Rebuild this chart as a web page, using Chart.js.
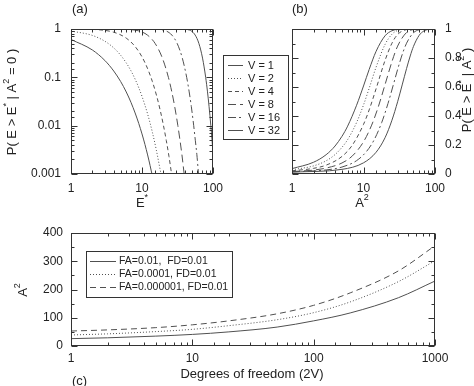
<!DOCTYPE html>
<html>
<head>
<meta charset="utf-8">
<script src="https://cdn.jsdelivr.net/npm/chart.js@4.4.1/dist/chart.umd.min.js"></script>
<style>
  html, body { margin: 0; padding: 0; background: #fff; }
  #wrap { position: relative; width: 474px; height: 386px; }
  canvas { position: absolute; left: 0; top: 0; }
</style>
</head>
<body>
<div id="wrap">
  <canvas id="chartA" width="474" height="386"></canvas>
  <canvas id="chartB" width="474" height="386"></canvas>
  <canvas id="chartC" width="474" height="386"></canvas>
</div>
<script>
// ---- data ----
const vLabels = ['V = 1', 'V = 2', 'V = 4', 'V = 8', 'V = 16', 'V = 32'];

// (a) P(E > E* | A^2 = 0) against E*
const eStarV1 = [1, 2, 3, 4, 5, 6, 7, 8, 9, 10, 11, 12, 13, 13.8];
const pNoiseV1 = [0.607, 0.368, 0.223, 0.135, 0.082, 0.0498, 0.0302, 0.0183, 0.0111, 0.00674, 0.00409, 0.00248, 0.0015, 0.001];
const eStarV2 = [1, 2, 3, 4, 5, 6, 7, 8, 9, 10, 12, 14, 16, 18, 18.5];
const pNoiseV2 = [0.91, 0.736, 0.558, 0.406, 0.287, 0.199, 0.136, 0.0916, 0.0611, 0.0404, 0.0174, 0.0073, 0.00302, 0.00123, 0.001];
const eStarV4 = [1, 2, 4, 6, 8, 10, 12, 14, 16, 18, 20, 22, 24, 26.1];
const pNoiseV4 = [0.998, 0.981, 0.857, 0.647, 0.434, 0.265, 0.151, 0.0818, 0.0424, 0.0212, 0.0103, 0.0049, 0.0023, 0.001];
const eStarV8 = [1, 3.94, 5.81, 7.96, 9.31, 11.91, 15.34, 19.37, 23.54, 26.3, 28.85, 32.0, 34.27, 36.5, 39.25];
const pNoiseV8 = [1, 0.999, 0.99, 0.95, 0.9, 0.75, 0.5, 0.25, 0.1, 0.05, 0.025, 0.01, 0.005, 0.0025, 0.001];
const eStarV16 = [1, 10, 15.13, 16.36, 18.29, 20.07, 22.27, 26.3, 31.34, 36.97, 42.58, 46.19, 49.48, 53.49, 56.33, 59.3, 62.49];
const pNoiseV16 = [1, 1, 0.995, 0.99, 0.975, 0.95, 0.9, 0.75, 0.5, 0.25, 0.1, 0.05, 0.025, 0.01, 0.005, 0.0025, 0.001];
const eStarV32 = [1, 30, 34.57, 40.63, 46.59, 50.0, 56.06, 63.34, 71.22, 78.86, 83.68, 88.0, 93.23, 96.91, 99.5];
const pNoiseV32 = [1, 0.9999, 0.999, 0.99, 0.95, 0.9, 0.75, 0.5, 0.25, 0.1, 0.05, 0.025, 0.01, 0.005, 0.003];

// (b) P(E > E* | A^2) against A^2
const ampV1 = [1, 2, 3, 4, 5, 6, 8, 10, 12, 15, 20, 25, 30, 40, 100];
const pDetV1 = [0.037, 0.081, 0.133, 0.193, 0.26, 0.33, 0.474, 0.607, 0.721, 0.846, 0.953, 0.988, 0.9975, 0.9999, 1];
const ampV2 = [1, 2, 3, 4, 5, 6, 8, 10, 12, 15, 20, 25, 30, 40, 100];
const pDetV2 = [0.029, 0.056, 0.091, 0.134, 0.184, 0.237, 0.355, 0.476, 0.591, 0.737, 0.893, 0.964, 0.99, 0.9994, 1];
const ampV4 = [1, 2, 3, 5, 7, 10, 12, 15, 20, 25, 30, 40, 50, 100];
const pDetV4 = [0.022, 0.039, 0.061, 0.121, 0.2, 0.342, 0.442, 0.588, 0.783, 0.902, 0.962, 0.996, 0.9997, 1];
const ampV8 = [1, 2, 3, 5, 7, 10, 13, 16, 20, 25, 30, 40, 50, 60, 100];
const pDetV8 = [0.017, 0.027, 0.041, 0.076, 0.125, 0.222, 0.337, 0.459, 0.616, 0.775, 0.882, 0.976, 0.9966, 0.9996, 1];
const ampV16 = [1, 3, 5, 8, 11, 14, 18, 22, 26, 30, 35, 40, 50, 60, 75, 100];
const pDetV16 = [0.015, 0.028, 0.048, 0.092, 0.155, 0.233, 0.356, 0.486, 0.611, 0.721, 0.828, 0.902, 0.974, 0.9947, 0.9995, 1];
const ampV32 = [1, 5, 10, 15, 20, 25, 30, 35, 40, 45, 50, 60, 70, 80, 100];
const pDetV32 = [0.013, 0.032, 0.077, 0.15, 0.25, 0.371, 0.498, 0.62, 0.727, 0.814, 0.88, 0.956, 0.987, 0.9965, 0.9998];

// (c) A^2 needed against degrees of freedom
const fdLabels = ['FA=0.01,  FD=0.01', 'FA=0.0001, FD=0.01', 'FA=0.000001, FD=0.01'];
const dof = [1, 2, 5, 10, 20, 50, 100, 200, 500, 1000];
const ampFa1e2 = [26, 29, 35, 41, 50, 67, 89, 117, 171, 230];
const ampFa1e4 = [39, 43, 51, 59, 72, 93, 118, 156, 228, 302];
const ampFa1e6 = [53, 57, 65, 75, 89, 114, 144, 188, 266, 355];

// ---- look ----
const INK = '#222';
const LINE = '#505050';
const FONT = '"Liberation Sans", Arial, Helvetica, sans-serif';
const dashV = [[], [1, 2], [4, 3], [8, 4], [8, 3, 2, 3], []];
const dashFd = [[], [1, 2], [6, 4]];

const pairs = (xs, ys) => xs.map((x, i) => ({ x: x, y: ys[i] }));

function curve(label, xs, ys, dash) {
    return {
        label: label,
        data: pairs(xs, ys),
        showLine: true,
        borderColor: LINE,
        borderWidth: 1,
        borderDash: dash,
        pointRadius: 0,
        fill: false,
        cubicInterpolationMode: 'monotone'
    };
}

function decadeLabel(v) {
    const l = Math.log10(v);
    return Math.abs(l - Math.round(l)) < 1e-9 ? String(v) : '';
}

// text with ^x superscripts, optionally rotated
function drawRich(ctx, text, x, y, size, align, rot) {
    const parts = [];
    for (let i = 0; i < text.length; i++) {
        if (text[i] === '^') { parts.push({ t: text[i + 1], sup: true }); i++; }
        else if (parts.length && !parts[parts.length - 1].sup) parts[parts.length - 1].t += text[i];
        else parts.push({ t: text[i], sup: false });
    }
    ctx.save();
    ctx.translate(x, y);
    if (rot) ctx.rotate(rot);
    ctx.fillStyle = INK;
    ctx.textBaseline = 'middle';
    ctx.textAlign = 'left';
    let w = 0;
    parts.forEach(p => {
        ctx.font = (p.sup ? Math.round(size * 0.72) : size) + 'px ' + FONT;
        p.w = ctx.measureText(p.t).width;
        w += p.w;
    });
    let cx = align === 'center' ? -w / 2 : 0;
    parts.forEach(p => {
        ctx.font = (p.sup ? Math.round(size * 0.72) : size) + 'px ' + FONT;
        ctx.fillText(p.t, cx, p.sup ? -size * 0.45 : 0);
        cx += p.w;
    });
    ctx.restore();
}

// gnuplot-like frame, inward ticks, texts and boxed legend
const decor = {
    id: 'decor',
    afterDatasetsDraw(chart, args, opts) {
        const ctx = chart.ctx;
        const a = chart.chartArea;
        const L = Math.round(a.left) + 0.5, R = Math.round(a.right) - 0.5;
        const T = Math.round(a.top) + 0.5, B = Math.round(a.bottom) - 0.5;
        ctx.save();
        ctx.strokeStyle = '#333';
        ctx.lineWidth = 1;
        ctx.setLineDash([]);
        ctx.strokeRect(L, T, R - L, B - T);
        ctx.beginPath();
        const xs = chart.scales.x, ys = chart.scales.y;
        xs.ticks.forEach(t => {
            const px = Math.round(xs.getPixelForValue(t.value)) + 0.5;
            const len = t.label ? 6 : 3;
            ctx.moveTo(px, B); ctx.lineTo(px, B - len);
            ctx.moveTo(px, T); ctx.lineTo(px, T + len);
        });
        ys.ticks.forEach(t => {
            const py = Math.round(ys.getPixelForValue(t.value)) + 0.5;
            const len = t.label ? 6 : 3;
            ctx.moveTo(L, py); ctx.lineTo(L + len, py);
            ctx.moveTo(R, py); ctx.lineTo(R - len, py);
        });
        ctx.stroke();

        (opts.texts || []).forEach(t => drawRich(ctx, t.text, t.x, t.y, t.size || 13, t.align || 'center', t.rot || 0));

        if (opts.legend) {
            const lg = opts.legend;
            ctx.strokeStyle = '#333';
            ctx.strokeRect(lg.box[0] + 0.5, lg.box[1] + 0.5, lg.box[2], lg.box[3]);
            chart.data.datasets.forEach((ds, i) => {
                const y = Math.round(lg.rowY + i * lg.rowStep) + 0.5;
                ctx.strokeStyle = ds.borderColor;
                ctx.setLineDash(ds.borderDash || []);
                ctx.beginPath();
                ctx.moveTo(lg.lineX[0], y);
                ctx.lineTo(lg.lineX[1], y);
                ctx.stroke();
                ctx.setLineDash([]);
                ctx.fillStyle = INK;
                ctx.font = lg.size + 'px ' + FONT;
                ctx.textBaseline = 'middle';
                ctx.textAlign = 'left';
                ctx.fillText(ds.label, lg.textX, y);
            });
        }
        ctx.restore();
    }
};

const tickFont = { family: FONT, size: 12 };

function baseOptions(padding) {
    return {
        responsive: false,
        animation: false,
        devicePixelRatio: 1,
        layout: { padding: padding },
        plugins: { legend: { display: false }, tooltip: { enabled: false } }
    };
}

// ---- (a) ----
const optA = baseOptions({ left: 0, top: 29, right: 261, bottom: 182 });
optA.scales = {
    x: {
        type: 'logarithmic', min: 1, max: 100,
        grid: { display: false, drawTicks: false }, border: { display: false },
        ticks: { autoSkip: false, maxRotation: 0, padding: 7, color: INK, font: tickFont, callback: decadeLabel },
        afterFit: s => { s.height = 30; }
    },
    y: {
        type: 'logarithmic', min: 0.001, max: 1,
        grid: { display: false, drawTicks: false }, border: { display: false },
        ticks: { autoSkip: false, padding: 10, color: INK, font: tickFont, callback: decadeLabel },
        afterFit: s => { s.width = 71; }
    }
};
optA.plugins.decor = {
    texts: [
        { text: '(a)', x: 72, y: 9, align: 'left' },
        { text: 'P( E > E^* | A^2 = 0 )', x: 12, y: 102, rot: -Math.PI / 2 },
        { text: 'E^*', x: 142, y: 203 }
    ],
    legend: { box: [223, 55, 65, 84], rowY: 65, rowStep: 13, lineX: [228, 243], textX: 248, size: 11 }
};
new Chart(document.getElementById('chartA'), {
    type: 'scatter',
    data: {
        datasets: [
            curve(vLabels[0], eStarV1, pNoiseV1, dashV[0]),
            curve(vLabels[1], eStarV2, pNoiseV2, dashV[1]),
            curve(vLabels[2], eStarV4, pNoiseV4, dashV[2]),
            curve(vLabels[3], eStarV8, pNoiseV8, dashV[3]),
            curve(vLabels[4], eStarV16, pNoiseV16, dashV[4]),
            curve(vLabels[5], eStarV32, pNoiseV32, dashV[5])
        ]
    },
    options: optA,
    plugins: [decor]
});

// ---- (b) ----
const optB = baseOptions({ left: 292, top: 29, right: 0, bottom: 182 });
optB.scales = {
    x: {
        type: 'logarithmic', min: 1, max: 100,
        grid: { display: false, drawTicks: false }, border: { display: false },
        ticks: { autoSkip: false, maxRotation: 0, padding: 7, color: INK, font: tickFont, callback: decadeLabel },
        afterFit: s => { s.height = 30; }
    },
    y: {
        type: 'linear', position: 'right', min: 0, max: 1,
        grid: { display: false, drawTicks: false }, border: { display: false },
        ticks: {
            autoSkip: false, stepSize: 0.1, padding: 10, color: INK, font: tickFont,
            callback: v => (Math.round(v * 10) % 2 === 0 ? String(+v.toFixed(1)) : '')
        },
        afterFit: s => { s.width = 39; }
    }
};
optB.plugins.decor = {
    texts: [
        { text: '(b)', x: 292, y: 9, align: 'left' },
        { text: 'A^2', x: 362, y: 203 },
        { text: 'P( E > E^* | A^2 )', x: 467, y: 90, rot: -Math.PI / 2 }
    ]
};
new Chart(document.getElementById('chartB'), {
    type: 'scatter',
    data: {
        datasets: [
            curve(vLabels[0], ampV1, pDetV1, dashV[0]),
            curve(vLabels[1], ampV2, pDetV2, dashV[1]),
            curve(vLabels[2], ampV4, pDetV4, dashV[2]),
            curve(vLabels[3], ampV8, pDetV8, dashV[3]),
            curve(vLabels[4], ampV16, pDetV16, dashV[4]),
            curve(vLabels[5], ampV32, pDetV32, dashV[5])
        ]
    },
    options: optB,
    plugins: [decor]
});

// ---- (c) ----
const optC = baseOptions({ left: 0, top: 233, right: 39, bottom: 10 });
optC.scales = {
    x: {
        type: 'logarithmic', min: 1, max: 1000,
        grid: { display: false, drawTicks: false }, border: { display: false },
        ticks: { autoSkip: false, maxRotation: 0, padding: 5, color: INK, font: tickFont, callback: decadeLabel },
        afterFit: s => { s.height = 30; }
    },
    y: {
        type: 'linear', min: 0, max: 400,
        grid: { display: false, drawTicks: false }, border: { display: false },
        ticks: {
            autoSkip: false, stepSize: 50, padding: 8, color: INK, font: tickFont,
            callback: v => (v % 100 === 0 ? String(v) : '')
        },
        afterFit: s => { s.width = 71; }
    }
};
optC.plugins.decor = {
    texts: [
        { text: 'A^2', x: 23, y: 290, rot: -Math.PI / 2 },
        { text: 'Degrees of freedom (2V)', x: 252, y: 374 },
        { text: '(c)', x: 72, y: 381, align: 'left' }
    ],
    legend: { box: [86, 251, 146, 46], rowY: 261, rowStep: 13, lineX: [90, 116], textX: 119, size: 10.5 }
};
new Chart(document.getElementById('chartC'), {
    type: 'scatter',
    data: {
        datasets: [
            curve(fdLabels[0], dof, ampFa1e2, dashFd[0]),
            curve(fdLabels[1], dof, ampFa1e4, dashFd[1]),
            curve(fdLabels[2], dof, ampFa1e6, dashFd[2])
        ]
    },
    options: optC,
    plugins: [decor]
});
</script>
</body>
</html>
